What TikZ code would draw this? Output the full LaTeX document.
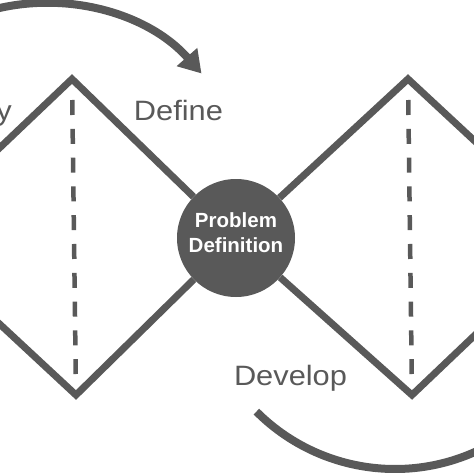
\documentclass[tikz,border=0pt]{standalone}
\usepackage{fontspec}
\setmainfont{Liberation Sans}
\usetikzlibrary{arrows.meta}
\definecolor{ddgray}{HTML}{595959}

\begin{document}
\begin{tikzpicture}[x=1pt,y=-1pt,
    edge/.style={ddgray,line width=7pt,line join=miter},
    midline/.style={ddgray,line width=4.5pt,dash pattern=on 15pt off 13.8pt,shorten <=21pt,shorten >=21pt},
    loopline/.style={ddgray,line width=8pt},
    phase/.style={text=ddgray,inner sep=0pt,font=\fontsize{28}{30}\selectfont}]
    \useasboundingbox (0,0) rectangle (474,474);
    \clip (0,0) rectangle (474,474);
    % corners of the two diamonds
    \coordinate (ltop) at (72,79);
    \coordinate (lbot) at (76,395);
    \coordinate (lend) at (-94,237);
    \coordinate (rtop) at (408,79);
    \coordinate (rbot) at (412,395);
    \coordinate (rend) at (578,237);
    \node[circle,fill=ddgray,minimum size=118pt,inner sep=0pt] (pd) at (236,238) {};
    \node[text=white,align=center,inner sep=0pt,font=\bfseries\fontsize{20.5}{25}\selectfont] (pdlabel) at ([yshift=5pt]pd.center) {Problem\\Definition};
    \draw[edge] (pd) -- (ltop) -- (lend) -- (lbot) -- (pd);
    \draw[edge] (pd) -- (rtop) -- (rend) -- (rbot) -- (pd);
    \draw[midline] (ltop) -- (lbot);
    \draw[midline] (rtop) -- (rbot);
    % the two round arrows
    \draw[loopline,-{Triangle[length=22pt,width=26pt]}] (45,212) ++(-106:209) arc[start angle=-106,end angle=-41.5,radius=209];
    \draw[loopline] (395,273) ++(135:196) arc[start angle=135,end angle=60,radius=196];
    \node[phase,anchor=base east] (discovery) at (12,120) {\scalebox{1.1}[1]{Discovery}};
    \node[phase,anchor=base] (define) at (178.5,120) {\scalebox{1.1}[1]{Define}};
    \node[phase,anchor=base] (develop) at (290.5,385) {\scalebox{1.1}[1]{Develop}};
\end{tikzpicture}
\end{document}
